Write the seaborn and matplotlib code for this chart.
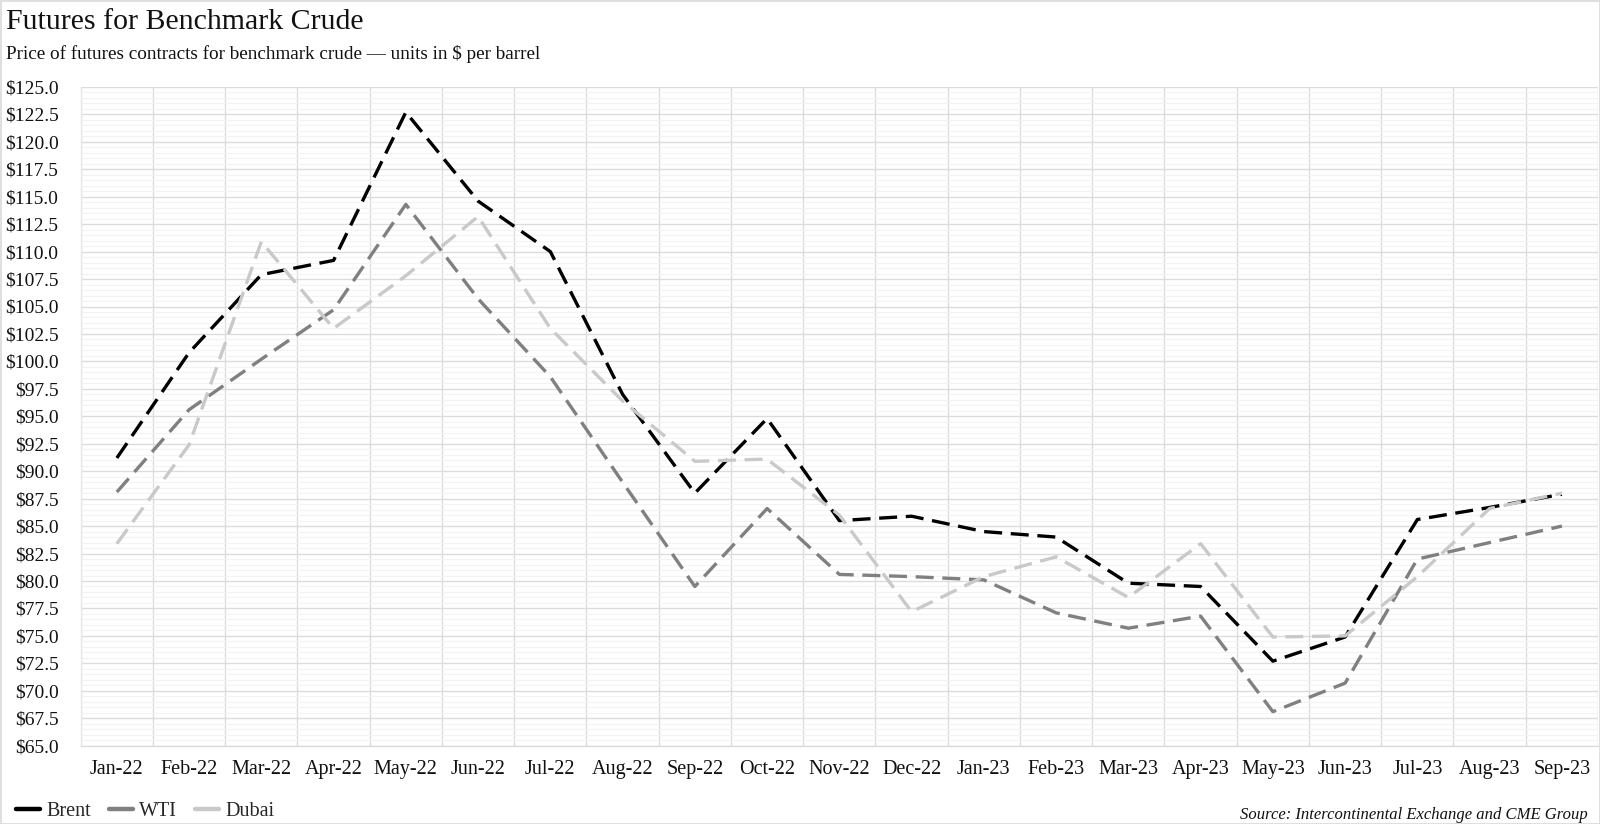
import matplotlib
matplotlib.use("Agg")
import matplotlib.pyplot as plt
from matplotlib.lines import Line2D
from matplotlib.patches import Rectangle
from matplotlib.ticker import MultipleLocator, FixedLocator, FuncFormatter
import seaborn as sns
import pandas as pd
import numpy as np

months = ["Jan-22", "Feb-22", "Mar-22", "Apr-22", "May-22", "Jun-22", "Jul-22",
          "Aug-22", "Sep-22", "Oct-22", "Nov-22", "Dec-22", "Jan-23", "Feb-23",
          "Mar-23", "Apr-23", "May-23", "Jun-23", "Jul-23", "Aug-23", "Sep-23"]
brent = [91.2, 100.8, 107.9, 109.2, 122.7, 114.6, 110.0, 97.0, 88.0, 94.8, 85.5,
         85.9, 84.5, 84.0, 79.8, 79.5, 72.7, 74.9, 85.6, 86.7, 87.9]
wti = [88.1, 95.6, 100.2, 104.7, 114.3, 105.7, 98.6, 89.0, 79.5, 86.6, 80.6,
       80.4, 80.1, 77.1, 75.7, 76.8, 68.1, 70.7, 82.0, 83.5, 85.0]
dubai = [83.4, 92.4, 110.9, 103.0, 107.8, 113.2, 103.0, 96.4, 90.9, 91.1, 86.0,
         77.2, 80.4, 82.2, 78.5, 83.4, 74.9, 75.0, 80.4, 86.6, 88.0]
series_names = ["Brent", "WTI", "Dubai"]
colors = {"Brent": "#000000", "WTI": "#808080", "Dubai": "#c9c9c9"}

df = pd.DataFrame({
    "month": months * 3,
    "series": [s for s in series_names for _ in months],
    "value": brent + wti + dubai,
})

sns.set_theme(style="white")
plt.rcParams["font.family"] = ["Liberation Serif", "DejaVu Serif"]

W, H = 1600, 824
fig = plt.figure(figsize=(W / 100, H / 100), dpi=100)
left, right, top, bottom = 80.7, 1598, 86.9, 745.7
ax = fig.add_axes([left / W, 1 - bottom / H, (right - left) / W, (bottom - top) / H])

sns.lineplot(data=df, x="month", y="value", hue="series", style="series",
             palette=colors, dashes={s: (5.4, 2.6) for s in series_names},
             linewidth=2.4, sort=False, ax=ax, legend=False, zorder=3)

n = len(months)
ax.set_xlim(-0.5, n - 0.5)
ax.set_ylim(65, 125)
ax.set_xlabel("")
ax.set_ylabel("")

ax.yaxis.set_major_locator(MultipleLocator(2.5))
ax.yaxis.set_minor_locator(MultipleLocator(0.5))
ax.yaxis.set_major_formatter(FuncFormatter(lambda v, p: f"${v:.1f}"))
ax.set_xticks(range(n))
ax.set_xticklabels(months)
ax.xaxis.set_minor_locator(FixedLocator(np.arange(-0.5, n, 1.0)))

ax.grid(False)
ax.grid(which="major", axis="y", color="#dcdcdc", linewidth=1.0, zorder=0)
ax.grid(which="minor", axis="y", color="#f3f3f3", linewidth=0.8, zorder=0)
ax.grid(which="minor", axis="x", color="#dcdcdc", linewidth=1.0, zorder=0)
ax.set_axisbelow(True)

ax.tick_params(axis="x", which="major", length=0, pad=10, labelsize=14.5, colors="#111111")
ax.tick_params(axis="x", which="minor", length=5, width=1, color="#dcdcdc", direction="out")
ax.tick_params(axis="y", which="both", length=0, pad=16, labelsize=14.0, colors="#111111")

for side in ["top", "right"]:
    ax.spines[side].set_visible(False)
ax.spines["left"].set_color("#e8e8e8")
ax.spines["bottom"].set_color("#dcdcdc")
ax.spines["left"].set_linewidth(1.0)
ax.spines["bottom"].set_linewidth(1.0)

fig.text(6 / W, 1 - 29 / H, "Futures for Benchmark Crude", fontsize=21.5,
         ha="left", va="baseline", color="#111111")
fig.text(6 / W, 1 - 59 / H,
         "Price of futures contracts for benchmark crude \u2014 units in $ per barrel",
         fontsize=13.8, ha="left", va="baseline", color="#111111")
fig.text(1588 / W, 1 - 819 / H, "Source: Intercontinental Exchange and CME Group",
         fontsize=12, style="italic", ha="right", va="baseline", color="#111111")

handles = [Line2D([0], [0], color=colors[s], lw=3.2) for s in series_names]
fig.legend(handles, series_names, loc="center left",
           bbox_to_anchor=(16 / W, 1 - 811 / H), ncol=3, frameon=False,
           fontsize=14.5, handlelength=1.2, handletextpad=0.3,
           columnspacing=0.9, borderpad=0, borderaxespad=0)

fig.patches.append(Rectangle((0.5 / W, 0.5 / H), 1 - 1 / W, 1 - 1 / H,
                             transform=fig.transFigure, fill=False,
                             edgecolor="#d9d9d9", linewidth=1.2))

fig.savefig("out.png", dpi=100)
